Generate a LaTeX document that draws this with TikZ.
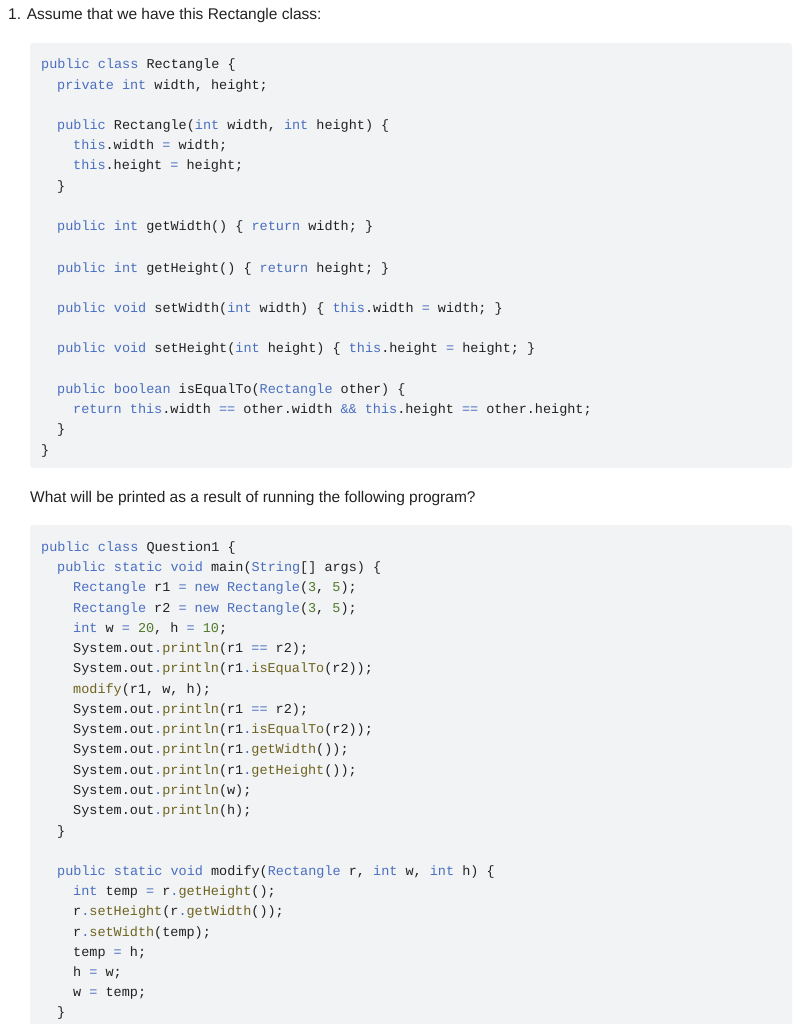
\documentclass[tikz,border=0pt]{standalone}
\usepackage{fontspec}
\setmainfont{Liberation Sans}
\newfontfamily\codefont{Liberation Mono}
\definecolor{kw}{HTML}{4A6FC0}
\definecolor{fn}{HTML}{6E6320}
\definecolor{num}{HTML}{4F7A28}
\definecolor{txt}{HTML}{222222}
\definecolor{bg}{HTML}{F2F3F5}
\newcommand\K[1]{\textcolor{kw}{#1}}
\newcommand\F[1]{\textcolor{fn}{#1}}
\newcommand\N[1]{\textcolor{num}{#1}}
\begin{document}
\begin{tikzpicture}[x=1pt,y=-1pt,
  code/.style={font=\codefont\fontsize{13.5}{16}\selectfont,inner sep=0,anchor=base west,text=txt},
  prose/.style={font=\fontsize{15.5}{18}\selectfont,inner sep=0,anchor=base west,text=txt},
  codebox/.style={fill=bg,rounded corners=3pt,draw=none}]
\useasboundingbox (0,0) rectangle (802,1024);
\fill[white] (0,0) rectangle (802,1024);
\node[prose] (t1) at (8,20) {1. Assume that we have this Rectangle class:};
\fill[codebox] (30,43) rectangle (792,468);
\node[code] (a1) at (41,69) {\K{public class} Rectangle \{};
\node[code] (a2) at (57,90) {\K{private int} width, height;};
\node[code] (a3) at (57,130) {\K{public} Rectangle(\K{int} width, \K{int} height) \{};
\node[code] (a4) at (73,150) {\K{this}.width \K{=} width;};
\node[code] (a5) at (73,170) {\K{this}.height \K{=} height;};
\node[code] (a6) at (57,191) {\}};
\node[code] (a7) at (57,231) {\K{public int} getWidth() \{ \K{return} width; \}};
\node[code] (a8) at (57,272) {\K{public int} getHeight() \{ \K{return} height; \}};
\node[code] (a9) at (57,312) {\K{public void} setWidth(\K{int} width) \{ \K{this}.width \K{=} width; \}};
\node[code] (a10) at (57,352) {\K{public void} setHeight(\K{int} height) \{ \K{this}.height \K{=} height; \}};
\node[code] (a11) at (57,393) {\K{public boolean} isEqualTo(\K{Rectangle} other) \{};
\node[code] (a12) at (73,413) {\K{return this}.width \K{==} other.width \K{\&\&} \K{this}.height \K{==} other.height;};
\node[code] (a13) at (57,433) {\}};
\node[code] (a14) at (41,454) {\}};
\node[prose] (t2) at (30,502) {What will be printed as a result of running the following program?};
\fill[codebox] (30,525) rectangle (792,1030);
\node[code] (b1) at (41,551) {\K{public class} Question1 \{};
\node[code] (b2) at (57,571) {\K{public static void} main(\K{String}[] args) \{};
\node[code] (b3) at (73,591) {\K{Rectangle} r1 \K{= new Rectangle}(\N{3}, \N{5});};
\node[code] (b4) at (73,612) {\K{Rectangle} r2 \K{= new Rectangle}(\N{3}, \N{5});};
\node[code] (b5) at (73,632) {\K{int} w \K{=} \N{20}, h \K{=} \N{10};};
\node[code] (b6) at (73,652) {System.out\K{.}\F{println}(r1 \K{==} r2);};
\node[code] (b7) at (73,672) {System.out\K{.}\F{println}(r1\K{.}\F{isEqualTo}(r2));};
\node[code] (b8) at (73,693) {\F{modify}(r1, w, h);};
\node[code] (b9) at (73,713) {System.out\K{.}\F{println}(r1 \K{==} r2);};
\node[code] (b10) at (73,733) {System.out\K{.}\F{println}(r1\K{.}\F{isEqualTo}(r2));};
\node[code] (b11) at (73,753) {System.out\K{.}\F{println}(r1\K{.}\F{getWidth}());};
\node[code] (b12) at (73,774) {System.out\K{.}\F{println}(r1\K{.}\F{getHeight}());};
\node[code] (b13) at (73,794) {System.out\K{.}\F{println}(w);};
\node[code] (b14) at (73,814) {System.out\K{.}\F{println}(h);};
\node[code] (b15) at (57,835) {\}};
\node[code] (b16) at (57,875) {\K{public static void} modify(\K{Rectangle} r, \K{int} w, \K{int} h) \{};
\node[code] (b17) at (73,895) {\K{int} temp \K{=} r\K{.}\F{getHeight}();};
\node[code] (b18) at (73,915) {r\K{.}\F{setHeight}(r\K{.}\F{getWidth}());};
\node[code] (b19) at (73,936) {r\K{.}\F{setWidth}(temp);};
\node[code] (b20) at (73,956) {temp \K{=} h;};
\node[code] (b21) at (73,976) {h \K{=} w;};
\node[code] (b22) at (73,996) {w \K{=} temp;};
\node[code] (b23) at (57,1016) {\}};
\end{tikzpicture}
\end{document}
